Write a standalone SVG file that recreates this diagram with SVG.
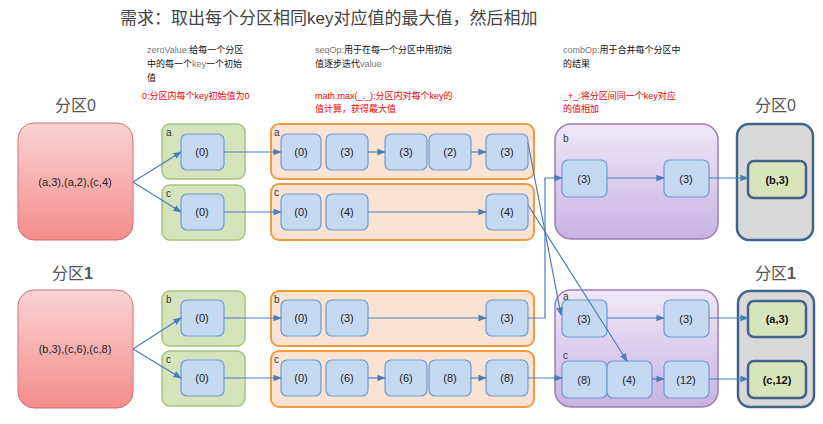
<svg xmlns="http://www.w3.org/2000/svg" width="823" height="424" viewBox="0 0 823 424">
<defs>
<linearGradient id="gp" x1="0" y1="0" x2="0" y2="1"><stop offset="0" stop-color="#fbd3d3"/><stop offset="1" stop-color="#f48c8c"/></linearGradient>
<linearGradient id="gv" x1="0" y1="0" x2="0" y2="1"><stop offset="0" stop-color="#efe8f8"/><stop offset="1" stop-color="#c8b3e3"/></linearGradient>
<marker id="ar" viewBox="0 0 10 10" refX="9" refY="5" markerWidth="7" markerHeight="7" orient="auto"><path d="M0,1 L10,5 L0,9 z" fill="#4a7ebb"/></marker>
</defs>
<style>
text{font-family:"Liberation Sans","Noto Sans CJK SC",sans-serif}
.pk{fill:url(#gp);stroke:#d07070;stroke-width:1}
.gr{fill:#d6e4bd;stroke:#a6c37c;stroke-width:1.5}
.or{fill:#fbe3d3;stroke:#f39a3e;stroke-width:2}
.pu{fill:url(#gv);stroke:#9a7cb6;stroke-width:1.5}
.gy{fill:#d9d9d9;stroke:#41648e;stroke-width:2.5}
.bl{fill:#c5d9f1;stroke:#6d9bd1;stroke-width:1.2}
.rs{fill:#d8e4bc;stroke:#41648e;stroke-width:2.5}
.t{font-size:11px;fill:#222;text-anchor:middle}
.tb{font-size:11px;fill:#111;text-anchor:middle;font-weight:bold}
.l{font-size:10px;fill:#333}
.n{font-size:9px;fill:#111}
.r{font-size:9px;fill:#e00}
.h{font-size:16px;fill:#555}
#conn path{fill:none;stroke:#4a7ebb;stroke-width:1.2;marker-end:url(#ar)}
</style>
<text x="120" y="24" font-size="17" fill="#444">需求：取出每个分区相同key对应值的最大值，然后相加</text>
<g id="notes">
<text class="n" x="147" y="53"><tspan fill="#777">zeroValue:</tspan>给每一个分区</text>
<text class="n" x="147" y="67">中的每一个<tspan fill="#777">key</tspan>一个初始</text>
<text class="n" x="147" y="81">值</text>
<text class="r" x="142" y="99">0:分区内每个key初始值为0</text>
<text class="n" x="315" y="53"><tspan fill="#777">seqOp:</tspan>用于在每一个分区中用初始</text>
<text class="n" x="315" y="67">值逐步迭代<tspan fill="#777">value</tspan></text>
<text class="r" x="315" y="99">math.max(_,_):分区内对每个key的</text>
<text class="r" x="315" y="112">值计算，获得最大值</text>
<text class="n" x="563" y="53"><tspan fill="#777">combOp:</tspan>用于合并每个分区中</text>
<text class="n" x="563" y="67">的结果</text>
<text class="r" x="563" y="99">_+_:将分区间同一个key对应</text>
<text class="r" x="563" y="112">的值相加</text>
<text class="h" x="55" y="111">分区0</text>
<text class="h" x="52" y="279">分区<tspan font-weight="bold">1</tspan></text>
<text class="h" x="755" y="111">分区0</text>
<text class="h" x="755" y="279">分区<tspan font-weight="bold">1</tspan></text>
</g>
<g id="p0"><rect class="pk" x="18" y="123" width="115" height="117" rx="16"/><text class="t" x="75" y="186">(a,3),(a,2),(c,4)</text></g>
<g id="p1"><rect class="pk" x="18" y="290" width="115" height="118" rx="16"/><text class="t" x="75" y="353">(b,3),(c,6),(c,8)</text></g>
<g id="zero">
<rect class="gr" x="162" y="124" width="83" height="55" rx="8"/><text class="l" x="166" y="136">a</text>
<rect class="bl" x="181" y="134" width="43" height="36" rx="6"/><text class="t" x="202" y="156">(0)</text>
<rect class="gr" x="162" y="185" width="83" height="55" rx="8"/><text class="l" x="166" y="197">c</text>
<rect class="bl" x="181" y="194" width="43" height="36" rx="6"/><text class="t" x="202" y="216">(0)</text>
<rect class="gr" x="162" y="291" width="83" height="55" rx="8"/><text class="l" x="166" y="303">b</text>
<rect class="bl" x="181" y="300" width="43" height="36" rx="6"/><text class="t" x="202" y="322">(0)</text>
<rect class="gr" x="162" y="351" width="83" height="55" rx="8"/><text class="l" x="166" y="363">c</text>
<rect class="bl" x="181" y="360" width="43" height="36" rx="6"/><text class="t" x="202" y="382">(0)</text>
</g>
<g id="seq">
<rect class="or" x="271" y="124" width="263" height="55" rx="8"/><text class="l" x="274" y="136">a</text>
<rect class="bl" x="281" y="134" width="40" height="36" rx="6"/><text class="t" x="301" y="156">(0)</text>
<rect class="bl" x="326" y="134" width="42" height="36" rx="6"/><text class="t" x="347" y="156">(3)</text>
<rect class="bl" x="385" y="134" width="42" height="36" rx="6"/><text class="t" x="406" y="156">(3)</text>
<rect class="bl" x="429" y="134" width="42" height="36" rx="6"/><text class="t" x="450" y="156">(2)</text>
<rect class="bl" x="486" y="134" width="42" height="36" rx="6"/><text class="t" x="507" y="156">(3)</text>
<rect class="or" x="271" y="184" width="263" height="56" rx="8"/><text class="l" x="274" y="196">c</text>
<rect class="bl" x="281" y="194" width="40" height="36" rx="6"/><text class="t" x="301" y="216">(0)</text>
<rect class="bl" x="326" y="194" width="42" height="36" rx="6"/><text class="t" x="347" y="216">(4)</text>
<rect class="bl" x="486" y="194" width="42" height="36" rx="6"/><text class="t" x="507" y="216">(4)</text>
<rect class="or" x="271" y="291" width="263" height="55" rx="8"/><text class="l" x="274" y="303">b</text>
<rect class="bl" x="281" y="300" width="40" height="36" rx="6"/><text class="t" x="301" y="322">(0)</text>
<rect class="bl" x="326" y="300" width="42" height="36" rx="6"/><text class="t" x="347" y="322">(3)</text>
<rect class="bl" x="486" y="300" width="42" height="36" rx="6"/><text class="t" x="507" y="322">(3)</text>
<rect class="or" x="271" y="351" width="263" height="56" rx="8"/><text class="l" x="274" y="363">c</text>
<rect class="bl" x="281" y="360" width="40" height="36" rx="6"/><text class="t" x="301" y="382">(0)</text>
<rect class="bl" x="326" y="360" width="42" height="36" rx="6"/><text class="t" x="347" y="382">(6)</text>
<rect class="bl" x="385" y="360" width="42" height="36" rx="6"/><text class="t" x="406" y="382">(6)</text>
<rect class="bl" x="429" y="360" width="42" height="36" rx="6"/><text class="t" x="450" y="382">(8)</text>
<rect class="bl" x="486" y="360" width="42" height="36" rx="6"/><text class="t" x="507" y="382">(8)</text>
</g>
<g id="comb">
<rect class="pu" x="555" y="124" width="163" height="115" rx="16"/><text class="l" x="563" y="142">b</text>
<rect class="bl" x="562" y="160" width="45" height="37" rx="6"/><text class="t" x="584" y="183">(3)</text>
<rect class="bl" x="664" y="160" width="45" height="37" rx="6"/><text class="t" x="686" y="183">(3)</text>
<rect class="pu" x="555" y="290" width="163" height="117" rx="16"/><text class="l" x="563" y="300">a</text><text class="l" x="563" y="359">c</text>
<rect class="bl" x="562" y="300" width="45" height="37" rx="6"/><text class="t" x="584" y="323">(3)</text>
<rect class="bl" x="664" y="300" width="45" height="37" rx="6"/><text class="t" x="686" y="323">(3)</text>
<rect class="bl" x="562" y="361" width="45" height="37" rx="6"/><text class="t" x="584" y="384">(8)</text>
<rect class="bl" x="607" y="361" width="45" height="37" rx="6"/><text class="t" x="629" y="384">(4)</text>
<rect class="bl" x="664" y="361" width="45" height="37" rx="6"/><text class="t" x="686" y="384">(12)</text>
</g>
<g id="res0"><rect class="gy" x="737" y="124" width="76" height="116" rx="12"/><rect class="rs" x="748" y="161" width="58" height="37" rx="6"/><text class="tb" x="777" y="184">(b,3)</text></g>
<g id="res1"><rect class="gy" x="738" y="291" width="76" height="116" rx="12"/>
<rect class="rs" x="748" y="301" width="58" height="36" rx="6"/><text class="tb" x="777" y="323">(a,3)</text>
<rect class="rs" x="748" y="361" width="58" height="37" rx="6"/><text class="tb" x="777" y="384">(c,12)</text></g>
<g id="conn">
<path d="M133,182 L181,152"/><path d="M133,182 L181,212"/>
<path d="M133,349 L181,318"/><path d="M133,349 L181,378"/>
<path d="M224,152 L281,152"/><path d="M224,212 L281,212"/><path d="M224,318 L281,318"/><path d="M224,378 L281,378"/>
<path d="M368,152 L385,152"/><path d="M471,152 L486,152"/>
<path d="M368,212 L486,212"/><path d="M368,318 L486,318"/>
<path d="M368,378 L385,378"/><path d="M471,378 L486,378"/>
<path d="M528,143 L561,315"/>
<path d="M528,205 L627,361"/>
<path d="M528,318 L545,318 L545,178 L562,178"/>
<path d="M528,378 L562,378"/>
<path d="M607,178 L664,178"/><path d="M709,178 L748,178"/>
<path d="M607,318 L664,318"/><path d="M709,318 L748,318"/>
<path d="M652,379 L664,379"/><path d="M709,379 L748,379"/>
</g>
</svg>
